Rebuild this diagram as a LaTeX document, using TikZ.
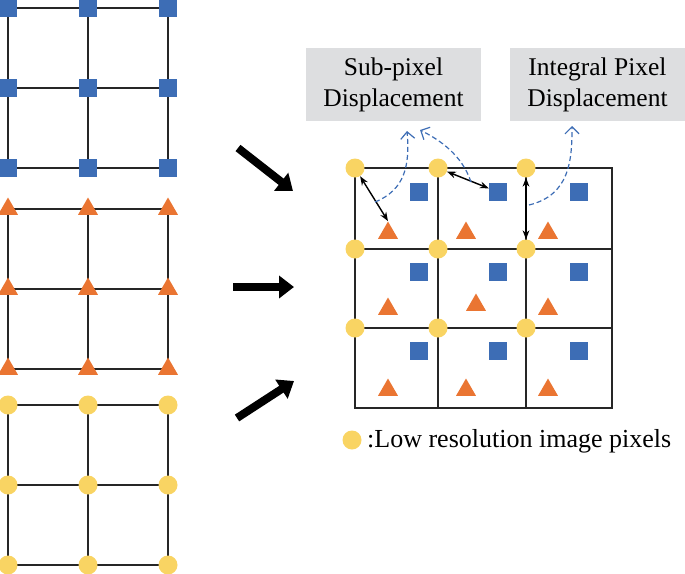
\documentclass[tikz,border=0pt]{standalone}
\usepackage{fontspec}
\setmainfont{Liberation Serif}
\usetikzlibrary{arrows.meta,shapes.geometric}
\definecolor{bl}{HTML}{3D6DB5}
\definecolor{or}{HTML}{EA7532}
\definecolor{ye}{HTML}{F9D463}
\definecolor{gr}{HTML}{DDDEE0}
\begin{document}
\begin{tikzpicture}[x=1pt,y=-1pt,
 sq/.style={fill=bl,draw=none,minimum size=18pt,inner sep=0pt},
 tri/.style={regular polygon,regular polygon sides=3,fill=or,draw=none,minimum size=23pt,inner sep=0pt},
 ci/.style={circle,fill=ye,draw=none,minimum size=19pt,inner sep=0pt},
 grid/.style={line width=1.5pt,black!85},
 big/.style={-{Triangle[length=15pt,width=22pt]},line width=8pt},
 dbl/.style={{Stealth[length=9pt]}-{Stealth[length=9pt]},line width=1.4pt},
 dsh/.style={-{Straight Barb[length=7pt]},dash pattern=on 5pt off 3pt,bl,line width=1.2pt},
 lab/.style={fill=gr,minimum width=175pt,minimum height=73pt,align=center,font=\fontsize{25.5}{31}\selectfont}]
\useasboundingbox (0,0) rectangle (685,573);
% left grids
\foreach \y/\s in {8/sq,209/tri,405/ci}{
 \foreach \k in {0,80,160}{
  \draw[grid] (8,\y+\k) -- (168,\y+\k);
  \draw[grid] (8+\k,\y) -- (8+\k,\y+160);
 }
 \foreach \i in {0,1,2} \foreach \j in {0,1,2}
  \node[\s] (l\s\i\j) at (8+80*\i,\y+80*\j) {};
}
% right grid
\draw[grid] (355,168) -- (612,168) -- (612,408) -- (355,408) -- cycle;
\draw[grid] (355,249) -- (612,249) (355,328) -- (612,328) (438,168) -- (438,408) (526,168) -- (526,408);
\foreach \x [count=\i] in {355,438,526} \foreach \y [count=\j] in {168,249,328}
 \node[ci] (c\i\j) at (\x,\y) {};
\foreach \x [count=\i] in {419,498,579} \foreach \y [count=\j] in {192,272,351}
 \node[sq] (s\i\j) at (\x,\y) {};
\node[tri] (t11) at (388,233) {};
\node[tri] (t21) at (466,233) {};
\node[tri] (t31) at (548,233) {};
\node[tri] (t12) at (388,309) {};
\node[tri] (t22) at (476,305) {};
\node[tri] (t32) at (548,309) {};
\node[tri] (t13) at (388,390) {};
\node[tri] (t23) at (466,390) {};
\node[tri] (t33) at (548,390) {};
% labels
\node[lab] (sub) at (393.5,84.5) {Sub-pixel\\Displacement};
\node[lab] (int) at (597.5,84.5) {Integral Pixel\\Displacement};
% double arrows
\draw[dbl] (c11) -- (t11.north);
\draw[dbl] (c21) -- (s21);
\draw[dbl] (c31) -- (c32);
% dashed
\coordinate (d1) at (375,202); \coordinate (d2) at (471,182); \coordinate (d3) at (529,205);
\coordinate (e1) at (407,131); \coordinate (e2) at (420,130); \coordinate (e3) at (572,126);
\draw[dsh] (d1) .. controls (405,190) and (410,165) .. (e1);
\draw[dsh] (d2) .. controls (462,155) and (440,140) .. (e2);
\draw[dsh] (d3) .. controls (570,195) and (572,160) .. (e3);
% big arrows
\coordinate (a1) at (238,148); \coordinate (b1) at (293,191);
\coordinate (a2) at (233,287); \coordinate (b2) at (294,287);
\coordinate (a3) at (237,418); \coordinate (b3) at (294,381);
\draw[big] (a1) -- (b1);
\draw[big] (a2) -- (b2);
\draw[big] (a3) -- (b3);
% legend
\node[ci] (leg) at (352,440) {};
\node[anchor=west,font=\fontsize{26}{30}\selectfont,inner sep=0pt] (legt) at (367,441) {:Low resolution image pixels};
\end{tikzpicture}
\end{document}
